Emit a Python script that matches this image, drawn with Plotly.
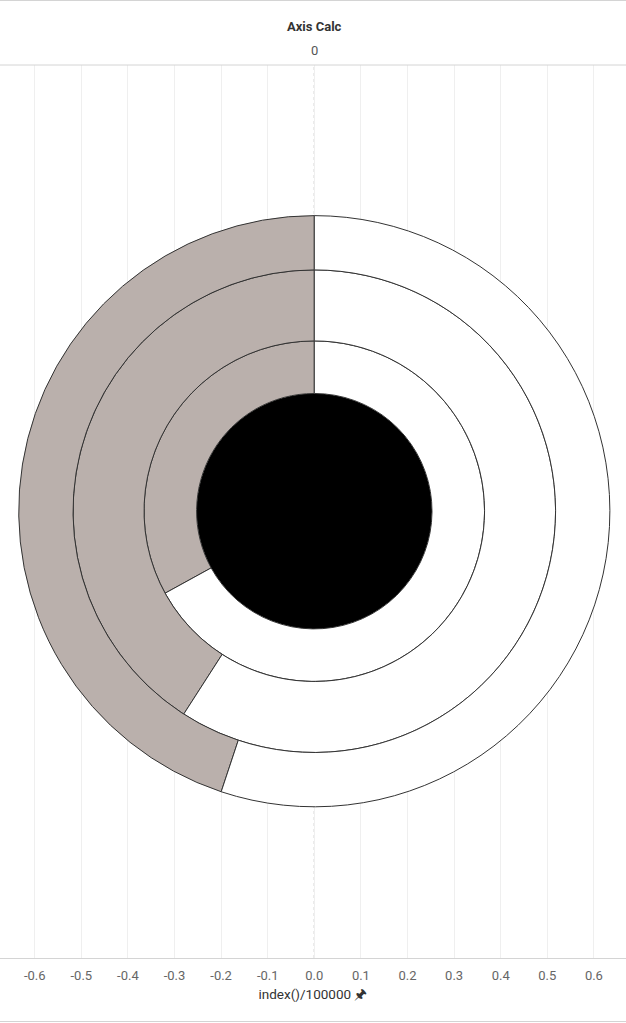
import plotly.graph_objects as go

# ---- data ----
ring_names = ["Inner ring", "Middle ring", "Outer ring"]
ring_share = [0.330, 0.409, 0.449]            # share of full circle filled (grey)
ring_inner_radius = [0.2526, 0.3654, 0.5178]  # in axis units
ring_outer_radius = [0.3654, 0.5178, 0.6343]
core_radius = 0.2526
x_ticks = [-0.6, -0.5, -0.4, -0.3, -0.2, -0.1, 0.0, 0.1, 0.2, 0.3, 0.4, 0.5, 0.6]
x_tick_labels = ["%.1f" % v for v in x_ticks]
header_title = "Axis Calc"
header_value = "0"
x_title = "index()/100000"

W, H = 626, 1023
M_TOP, M_BOT = 65, 65
plot_h = H - M_TOP - M_BOT
cx_px, cy_px = 314.3, 511.2          # centre of the rings (pixels)
px_per_unit = 466.0
x_min = -cx_px / px_per_unit
x_max = (W - cx_px) / px_per_unit
r_max = max(ring_outer_radius) + 0.006   # small head-room so the outer edge is not clipped
r_px = r_max * px_per_unit

GREY = "#bab0ac"
EDGE = "#333333"
FONT = "Roboto"

fig = go.Figure()

# invisible cartesian trace so that the x axis is drawn
fig.add_trace(go.Scatter(x=[x_min, x_max], y=[0, 0], mode="markers",
                         marker=dict(opacity=0), hoverinfo="skip", showlegend=False))

# black core
fig.add_trace(go.Barpolar(r=[core_radius], base=[0], theta=[180], width=[360],
                          marker=dict(color="black", line=dict(width=0)),
                          showlegend=False, subplot="polar"))

for name, share, r0, r1 in zip(ring_names, ring_share, ring_inner_radius, ring_outer_radius):
    deg = share * 360.0
    fig.add_trace(go.Barpolar(
        r=[r1 - r0, r1 - r0], base=[r0, r0],
        theta=[deg / 2.0, deg + (360.0 - deg) / 2.0],
        width=[deg, 360.0 - deg],
        marker=dict(color=[GREY, "white"], line=dict(color=EDGE, width=1)),
        name=name, showlegend=False, subplot="polar"))

cy_from_bottom = (H - M_BOT) - cy_px
fig.update_layout(
    width=W, height=H, autosize=False,
    margin=dict(l=0, r=0, t=M_TOP, b=M_BOT, pad=0),
    paper_bgcolor="white", plot_bgcolor="white",
    font=dict(family=FONT, color="#555"),
    showlegend=False,
    xaxis=dict(range=[x_min, x_max], tickvals=x_ticks, ticktext=x_tick_labels,
               showgrid=True, gridcolor="#efefef", gridwidth=1, zeroline=False,
               showline=True, linecolor="#d4d4d4", linewidth=1,
               ticks="outside", ticklen=5, tickcolor="rgba(0,0,0,0)",
               tickfont=dict(size=13, color="#666", family=FONT),
               title=dict(text=x_title + " \U0001F588", standoff=7,
                          font=dict(size=13.5, color="#333", family=FONT)),
               fixedrange=True),
    yaxis=dict(range=[-1, 1], visible=False, fixedrange=True),
    polar=dict(
        domain=dict(x=[(cx_px - r_px) / W, (cx_px + r_px) / W],
                    y=[(cy_from_bottom - r_px) / plot_h, (cy_from_bottom + r_px) / plot_h]),
        bgcolor="rgba(0,0,0,0)",
        barmode="overlay", bargap=0, hole=0,
        radialaxis=dict(range=[0, r_max], visible=False),
        angularaxis=dict(rotation=90, direction="counterclockwise", visible=False),
    ),
    shapes=[
        dict(type="line", xref="x", yref="paper", x0=0, x1=0, y0=0, y1=1,
             line=dict(color="#9a9a9a", width=1, dash="dot"), layer="below"),
        dict(type="line", xref="paper", yref="paper", x0=0, x1=1,
             y0=1 + (M_TOP - 0.5) / plot_h, y1=1 + (M_TOP - 0.5) / plot_h,
             line=dict(color="#d4d4d4", width=1)),
        dict(type="line", xref="paper", yref="paper", x0=0, x1=1, y0=1, y1=1,
             line=dict(color="#d4d4d4", width=1)),
        dict(type="line", xref="paper", yref="paper", x0=0, x1=1,
             y0=-(1021.5 - (H - M_BOT)) / plot_h, y1=-(1021.5 - (H - M_BOT)) / plot_h,
             line=dict(color="#d4d4d4", width=1)),
    ],
    annotations=[
        dict(text="<b>" + header_title + "</b>", xref="x", yref="paper", x=0,
             y=1 + (M_TOP - 27) / plot_h, yanchor="middle", showarrow=False,
             font=dict(size=13, color="#333", family=FONT)),
        dict(text=header_value, xref="x", yref="paper", x=0,
             y=1 + (M_TOP - 50) / plot_h, yanchor="middle", showarrow=False,
             font=dict(size=13, color="#555", family=FONT)),
    ],
)

fig.write_html("out.html", config=dict(displayModeBar=False, staticPlot=True),
               post_script="document.body.style.margin='0';document.body.style.overflow='hidden';")
